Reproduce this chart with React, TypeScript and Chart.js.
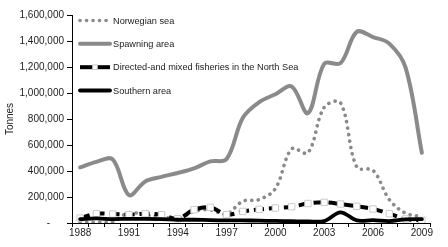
import React, { useEffect, useRef } from "react";
import { Chart, registerables } from "chart.js";

Chart.register(...registerables);

const years = [
  "1988", "1989", "1990", "1991", "1992", "1993", "1994", "1995", "1996", "1997", "1998",
  "1999", "2000", "2001", "2002", "2003", "2004", "2005", "2006", "2007", "2008", "2009",
];
const labeledYears = ["1988", "1991", "1994", "1997", "2000", "2003", "2006", "2009"];

const seriesNames = [
  "Norwegian sea",
  "Spawning area",
  "Directed-and mixed fisheries in the North Sea",
  "Southern area",
];

const norwegianSea = [
  10000, 5000, 10000, 80000, 60000, 50000, 30000, 90000, 100000, 70000, 168000,
  180000, 265000, 570000, 540000, 890000, 925000, 430000, 405000, 180000, 75000, 50000,
];
const spawningArea = [
  428000, 470000, 490000, 215000, 320000, 355000, 385000, 420000, 474000, 492000, 810000,
  930000, 990000, 1050000, 845000, 1225000, 1230000, 1470000, 1430000, 1380000, 1195000, 540000,
];
const directedMixed = [
  38000, 72000, 69000, 64000, 72000, 64000, 33000, 102000, 120000, 64000, 89000,
  105000, 115000, 125000, 150000, 159000, 146000, 128000, 108000, 72000, 31000, 20000,
];
const southernArea = [
  30000, 35000, 30000, 32000, 32000, 30000, 25000, 25000, 22000, 20000, 20000,
  18000, 16000, 14000, 12000, 15000, 82000, 20000, 22000, 15000, 28000, 30000,
];

const yMin = 0;
const yMax = 1600000;
const yStep = 200000;
const yTitle = "Tonnes";

const GRAY = "#8a8a8a";
const FONT = '"Liberation Sans", Arial, sans-serif';

export default function App() {
  const ref = useRef<HTMLCanvasElement>(null);

  useEffect(() => {
    document.body.style.margin = "0";
    const canvas = ref.current;
    if (!canvas) return;

    const legendPlugin = {
      id: "insideLegend",
      afterDraw(chart: any) {
        const ctx = chart.ctx as CanvasRenderingContext2D;
        const area = chart.chartArea;
        const x0 = area.left + 8;
        const x1 = area.left + 38;
        const tx = area.left + 41;
        const ys = [20.5, 43.8, 67.2, 90.5];
        ctx.save();
        chart.data.datasets.forEach((ds: any, i: number) => {
          const y = ys[i];
          ctx.beginPath();
          ctx.lineWidth = ds.borderWidth;
          ctx.strokeStyle = ds.borderColor;
          ctx.lineCap = ds.borderCapStyle || "butt";
          ctx.setLineDash(ds.legendDash || []);
          ctx.moveTo(x0, y);
          ctx.lineTo(x1, y);
          ctx.stroke();
          ctx.setLineDash([]);
          if (ds.pointRadius > 0) {
            const s = 4.5;
            const cx = (x0 + x1) / 2;
            ctx.fillStyle = "#ffffff";
            ctx.strokeStyle = "#cccccc";
            ctx.lineWidth = 1;
            ctx.fillRect(cx - s / 2, y - s / 2, s, s);
            ctx.strokeRect(cx - s / 2, y - s / 2, s, s);
          }
          ctx.fillStyle = "#222222";
          ctx.font = `9.2px ${FONT}`;
          ctx.textAlign = "left";
          ctx.textBaseline = "middle";
          ctx.fillText(ds.label, tx, y + 0.5);
        });
        ctx.restore();
      },
    };

    const chart = new Chart(canvas, {
      type: "line",
      data: {
        labels: years,
        datasets: [
          {
            label: seriesNames[0],
            data: norwegianSea,
            borderColor: GRAY,
            borderWidth: 3.6,
            borderDash: [0.1, 6.4],
            legendDash: [0.1, 6.4],
            borderCapStyle: "round",
            pointRadius: 0,
            tension: 0.35,
            fill: false,
            order: 2,
          } as any,
          {
            label: seriesNames[1],
            data: spawningArea,
            borderColor: GRAY,
            borderWidth: 4,
            borderCapStyle: "round",
            borderJoinStyle: "round",
            pointRadius: 0,
            tension: 0.35,
            fill: false,
            order: 3,
          } as any,
          {
            label: seriesNames[2],
            data: directedMixed,
            borderColor: "#000000",
            borderWidth: 4,
            borderDash: [10, 5],
            borderCapStyle: "butt",
            pointStyle: "rect",
            pointRadius: 4.5,
            pointBackgroundColor: "#ffffff",
            pointBorderColor: "#cccccc",
            pointBorderWidth: 1,
            tension: 0.35,
            fill: false,
            order: 1,
          } as any,
          {
            label: seriesNames[3],
            data: southernArea,
            borderColor: "#000000",
            borderWidth: 3.8,
            borderCapStyle: "round",
            borderJoinStyle: "round",
            pointRadius: 0,
            tension: 0.35,
            fill: false,
            order: 0,
          } as any,
        ],
      },
      options: {
        responsive: false,
        devicePixelRatio: 1,
        animation: false,
        events: [],
        layout: { padding: { top: 15, right: 18, left: 0, bottom: 0 } },
        plugins: {
          legend: { display: false },
          tooltip: { enabled: false },
          title: { display: false },
        },
        scales: {
          x: {
            type: "category",
            offset: true,
            grid: {
              display: true,
              offset: true,
              drawOnChartArea: false,
              drawTicks: true,
              tickLength: 4,
              color: "#000000",
            },
            border: { display: true, color: "#000000", width: 1 },
            ticks: {
              autoSkip: false,
              maxRotation: 0,
              minRotation: 0,
              padding: 0,
              color: "#222222",
              font: { family: FONT, size: 10 },
              callback: function (this: any, value: any, index: number) {
                const lab = years[index];
                return labeledYears.includes(lab) ? lab : "";
              },
            },
            afterFit(scale: any) {
              scale.height = 24;
            },
          },
          y: {
            min: yMin,
            max: yMax,
            grid: {
              display: true,
              drawOnChartArea: false,
              drawTicks: true,
              tickLength: 5,
              color: "#000000",
            },
            border: { display: true, color: "#000000", width: 1 },
            ticks: {
              stepSize: yStep,
              padding: 3,
              color: "#222222",
              font: { family: FONT, size: 10 },
              callback: (v: any) =>
                Number(v) === 0
                  ? "-\u00a0\u00a0\u00a0\u00a0\u00a0"
                  : Number(v).toLocaleString("en-US"),
            },
            title: {
              display: true,
              text: yTitle,
              color: "#222222",
              font: { family: FONT, size: 10 },
              padding: { top: 4, bottom: 0 },
            },
            afterFit(scale: any) {
              scale.width = 72;
            },
          },
        },
      },
      plugins: [legendPlugin],
    });

    return () => chart.destroy();
  }, []);

  return (
    <div style={{ width: 448, height: 247 }}>
      <canvas ref={ref} width={448} height={247} style={{ display: "block", width: 448, height: 247 }} />
    </div>
  );
}
